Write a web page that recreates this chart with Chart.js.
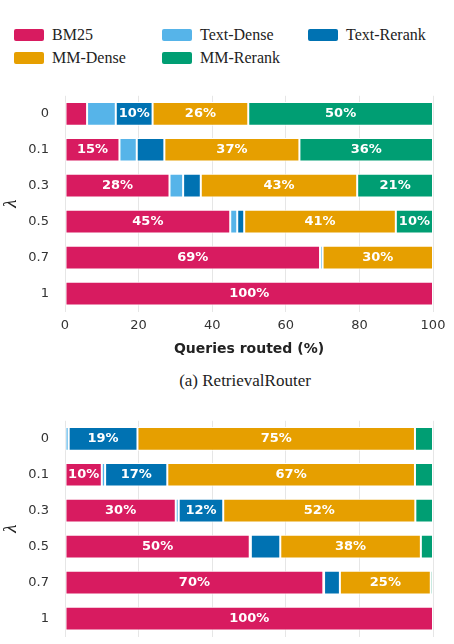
<!DOCTYPE html>
<html><head><meta charset="utf-8">
<script src="https://cdn.jsdelivr.net/npm/chart.js@4"></script>
<style>
body{margin:0;width:454px;height:644px;overflow:hidden;background:#fff;position:relative;font-family:"Liberation Serif",serif}
.lg{position:absolute;font-size:16px;color:#222;display:flex;align-items:center}
.sw{width:30px;height:12px;border-radius:2px;margin-right:8px;display:inline-block}
#c1w{position:absolute;left:0;top:80px;width:454px;height:282px}
#c2w{position:absolute;left:0;top:405px;width:454px;height:282px}
#cap{position:absolute;top:371px;left:0;width:490px;text-align:center;font-size:17px;color:#222}
</style></head><body>
<div class="lg" style="left:14px;top:26px"><span class="sw" style="background:#d81b60"></span>BM25</div>
<div class="lg" style="left:162px;top:26px"><span class="sw" style="background:#56b4e9"></span>Text-Dense</div>
<div class="lg" style="left:308px;top:26px"><span class="sw" style="background:#0072b2"></span>Text-Rerank</div>
<div class="lg" style="left:14px;top:49px"><span class="sw" style="background:#e69f00"></span>MM-Dense</div>
<div class="lg" style="left:162px;top:49px"><span class="sw" style="background:#009e73"></span>MM-Rerank</div>
<div id="c1w"><canvas id="c1"></canvas></div>
<div id="cap">(a) RetrievalRouter</div>
<div id="c2w"><canvas id="c2"></canvas></div>
<script>
const lambdas=["0","0.1","0.3","0.5","0.7","1"];
const seriesNames=["BM25","Text-Dense","Text-Rerank","MM-Dense","MM-Rerank"];
const colors=["#d81b60","#56b4e9","#0072b2","#e69f00","#009e73"];
const topBM25=[6,14.8,28.4,44.9,69.3,100];
const topTextDense=[7.8,4.7,3.7,1.9,0.7,0];
const topTextRerank=[10,7.5,4.8,1.9,0,0];
const topMMDense=[26,36.7,42.5,41.2,30,0];
const topMMRerank=[50.2,36.3,20.6,10.1,0,0];
const botBM25=[0,10,30.1,50.2,70.2,100];
const botTextDense=[1,0.9,0.8,0.3,0.2,0];
const botTextRerank=[18.7,16.9,12.1,8,4.3,0];
const botMMDense=[75.4,67.3,52.2,38.2,24.7,0];
const botMMRerank=[4.9,4.9,4.8,3.3,0.6,0];
const xTicks=[0,20,40,60,80,100];

const labelPlugin={id:'lbl',afterDatasetsDraw(c){const ctx=c.ctx;ctx.save();ctx.font='bold 13px "DejaVu Sans"';ctx.fillStyle='#fff';ctx.textAlign='center';ctx.textBaseline='middle';
c.data.datasets.forEach((d,i)=>{c.getDatasetMeta(i).data.forEach((b,j)=>{const v=d.data[j];if(v>=9.5){ctx.fillText(Math.round(v)+'%',(b.x+b.base)/2,b.y);}});});ctx.restore();}};
function make(id,arrs,showX){
new Chart(document.getElementById(id),{type:'bar',plugins:[labelPlugin],
data:{labels:lambdas,datasets:arrs.map((a,i)=>({label:seriesNames[i],data:a,backgroundColor:colors[i],borderColor:'#fff',borderWidth:1,borderSkipped:false,barPercentage:0.66,categoryPercentage:1}))},
options:{indexAxis:'y',responsive:true,maintainAspectRatio:false,animation:false,
layout:{padding:{top:7,right:21,left:0,bottom:0}},
plugins:{legend:{display:false},tooltip:{enabled:false}},
scales:{x:{stacked:true,min:0,max:100,afterBuildTicks:s=>{s.ticks=xTicks.map(v=>({value:v}));},
grid:{color:'#e6e6e6',drawTicks:false},border:{display:false},
ticks:{color:'#333',font:{family:'DejaVu Sans',size:13},padding:6},
title:{display:true,text:'Queries routed (%)',color:'#222',font:{family:'DejaVu Sans',size:14,weight:'bold'},padding:{top:2}}},
y:{stacked:true,grid:{display:false},border:{display:false},afterFit:s=>{s.width=65;},
ticks:{color:'#333',font:{family:'DejaVu Sans',size:13},padding:8},
title:{display:true,text:'λ',color:'#222',font:{family:'Liberation Serif',size:19,style:'italic'},padding:0}}}}});
}
make('c1',[topBM25,topTextDense,topTextRerank,topMMDense,topMMRerank]);
make('c2',[botBM25,botTextDense,botTextRerank,botMMDense,botMMRerank]);
</script></body></html>
